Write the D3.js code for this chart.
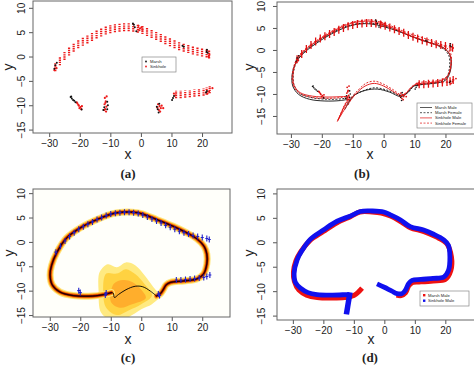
<!DOCTYPE html>
<html>
<head>
<meta charset="utf-8">
<script src="https://cdn.jsdelivr.net/npm/d3@7"></script>
<style>
body { margin: 0; background: #fff; }
svg text { font-family: "Liberation Sans", Arial, sans-serif; fill: #222; }
</style>
</head>
<body>
<svg id="fig" width="474" height="368"></svg>
<script>
const xTicks = [-30, -20, -10, 0, 10, 20];
const yTicks = [-15, -10, -5, 0, 5, 10];

// observation streaks along the upper arc and the lower right band
const arcObs = [[-28,-2.1],[-26.5,-0.9],[-25,0.2],[-23.5,1.1],[-22,1.9],[-20.5,2.6],[-19,3.1],[-17.5,3.6],[-16,4.1],[-14.5,4.6],[-13,5.0],[-11.5,5.4],[-10,5.7],[-8.5,5.9],[-7,6.0],[-5.5,6.1],[-4,6.1],[-2.5,6.0],[-1,5.8],[0.5,5.5],[2,5.1],[3.5,4.7],[5,4.3],[6.5,3.9],[8,3.4],[9.5,3.0],[11,2.6],[12.5,2.2],[14,1.9],[15.5,1.6],[17,1.3],[18.5,1.1],[20,0.9],[21.5,0.7],[22.3,0.5]];
const lowObs = [[11.5,-7.8],[13,-7.8],[14.5,-7.7],[16,-7.6],[17.5,-7.5],[19,-7.4],[20.5,-7.3],[21.5,-7.1],[22.5,-6.8]];

// scattered points ("Sinkhole" red, "Marsh" black)
const redPts = [[-20.8,-9.6],[-20.3,-10.1],[-19.8,-10.4],[-20.5,-9.9],[-19.5,-10.8],[-20.1,-10.6],[-21,-9.4],[-19.3,-10.2],
  [-11.8,-8.5],[-11.5,-9.2],[-11.9,-9.8],[-11.3,-10.3],[-11.7,-10.8],[-11.4,-11.3],[-12,-11],[-11.6,-9.5],[-11.2,-8.2],
  [5.6,-9.8],[6.1,-10.2],[6.5,-10.6],[5.9,-11],[6.8,-10.1],[5.4,-10.5],[6.3,-11.3],[7.3,-10.6],
  [-0.8,6.3],[-0.3,5.8],[0.2,6.0],[-0.5,5.4],[0.5,5.5],[-28.3,-2.8],[-27.6,-2.4],[22.2,0.0],[22.4,0.4],
  [10.8,-7.6],[11.2,-8.0],[21.8,-7.6],[22.3,-7.2],[23.4,-6.5]];
const blackPts = [[-23,-8.3],[-22.6,-8.6],[-22.2,-8.9],[-21.8,-9.1],[-21.4,-9.4],[-22.8,-8.2],[-19.4,-10.9],
  [-11,-9.3],[-10.8,-10],[-11,-10.8],[-12.3,-11],[-12,-10.4],
  [5.5,-10.8],[5.8,-11.5],[6,-9.7],[5.2,-10.3],
  [-2.3,6.5],[-2,6.0],[-1.5,5.2],[-2.6,6.8],[14,2.0],[13.6,2.2],[21.6,1.4],[21.8,0.8],[21.5,1.0],
  [-28,-1.8],[-27.5,-1.3],[-28.3,-2.5],[10.5,-8.5],[10.2,-8.9],[10.8,-8.1],[21.3,-7.4],[21.6,-7.1]];

// (b) fitted curves
const marshMale = [[-12.5,-13.5],[-11.3,-11.8],[-9.5,-10.3],[-6,-9.2],[-2,-8.9],[2,-9.6],[5.5,-10.6],[7.5,-9.9],[9.5,-8.3],[12,-7.9],[17,-7.5],[20,-6.9],[21.5,-5],[21.8,-2],[20.6,-0.2],[18,1],[14,1.8],[10,2.8],[5,4.2],[0,5.3],[-4,5.9],[-8,5.9],[-12,5.2],[-17,3.6],[-22,1.4],[-26,-0.8],[-28.4,-2.9],[-29.6,-5.6],[-29.4,-8.2],[-27.5,-10.1],[-24,-11.2],[-19,-11.6],[-14,-11.5],[-11.5,-11.2]];
const marshFemale = [[-11.5,-12.5],[-10,-10.6],[-7,-9.4],[-3,-8.6],[1,-9.1],[5.8,-10.3],[8,-9.6],[10,-8.1],[13,-7.7],[18,-7.3],[20.3,-6.4],[21.3,-4],[21.2,-1.5],[19.8,0],[17,1.1],[13,2.1],[9,3.1],[4,4.5],[0,5.5],[-4,6.1],[-8,6.0],[-12,5.4],[-17,3.8],[-22,1.6],[-26,-0.6],[-28.1,-2.6],[-29.2,-5.3],[-29,-7.9],[-27.2,-9.8],[-23.5,-10.8],[-18,-11.2],[-13.5,-11.1],[-11,-10.8]];
const sinkMale = [[-14.8,-16],[-12,-12.8],[-9,-10],[-6,-8.2],[-3,-7.6],[0,-8.2],[3,-9.4],[5.5,-10.4],[7,-10],[8.5,-8.8],[10.5,-7.8],[14,-7.5],[18,-7.1],[20.5,-6.1],[21.7,-3.6],[21.4,-1],[19.5,0.4],[16,1.4],[12,2.4],[8,3.4],[4,4.7],[0,5.8],[-4,6.5],[-8,6.4],[-12,5.7],[-17,4],[-22,1.8],[-26,-0.4],[-28.2,-2.5],[-29.3,-5.4],[-29,-8],[-27,-9.7],[-23,-10.5],[-18,-10.7],[-13,-10.6],[-11,-10.6],[-12.5,-12.5],[-14.8,-16]];
const sinkFemale = [[-15,-16.3],[-12,-12.2],[-8.5,-9.3],[-5.5,-7.5],[-2.8,-7.1],[0,-7.8],[3,-9],[5.8,-10.2],[7.5,-9.6],[9,-8.4],[11,-7.5],[14,-7.2],[18,-6.9],[20.8,-5.8],[21.9,-3.2],[21.6,-0.6],[19.8,0.8],[16.5,1.8],[12.5,2.8],[8,3.8],[4,5.0],[0,6.1],[-4,6.8],[-8,6.6],[-12,5.9],[-17,4.2],[-22,2],[-26,-0.2],[-28.3,-2.3],[-29.5,-5.3],[-29.2,-8.1],[-27.2,-9.9],[-23,-10.8],[-18,-11],[-13.5,-10.8],[-11.5,-10.6],[-13,-13],[-15,-16.3]];
const curvesB = [
  {name: "Marsh Male", pts: marshMale, color: "#111", dash: null},
  {name: "Marsh Female", pts: marshFemale, color: "#111", dash: "2,1.5"},
  {name: "Sinkhole Male", pts: sinkMale, color: "#e01010", dash: null},
  {name: "Sinkhole Female", pts: sinkFemale, color: "#e01010", dash: "2,1.5"}
];

// (c) density ridge, mean path and blob contours
const ridgeC = [[5.0,-11.1],[6.3,-10.6],[7.2,-9.8],[8.2,-8.8],[9.6,-8.3],[14,-8.0],[18.2,-7.6],[20.4,-6.6],[21.5,-4.5],[21.5,-2.5],[20.6,-0.9],[18.1,0.7],[14.8,1.9],[10.5,3.2],[5,4.6],[0,5.8],[-3,6.1],[-6,6.1],[-9.3,5.8],[-13.7,4.8],[-19.1,3.2],[-24.5,0.8],[-27.7,-2.2],[-29.4,-4.8],[-29.9,-6.8],[-29.2,-8.8],[-26.6,-10.3],[-22.3,-11.0],[-16,-11.1],[-12.4,-10.8],[-9.8,-10.4]];
const humpC = [[-9.8,-10.4],[-9.2,-10.5],[-8.8,-11.4],[-7.5,-10.8],[-5,-9.8],[-2,-9.1],[0.5,-9.2],[3,-10.1],[5.0,-11.1]];
const blobOuter = [[-13.5,-6],[-11,-4.6],[-8,-5.2],[-5,-4.2],[-2,-4.8],[1,-6.8],[4,-9.3],[6,-11],[3.5,-12.8],[0,-13.8],[-3,-15],[-6,-16],[-10,-16],[-13.2,-14.5],[-14,-10],[-14,-7]];
const blobMid = [[-11.5,-6.5],[-8,-6.5],[-5,-5.6],[-2,-6.6],[1,-8.6],[3.5,-11],[0,-12.8],[-4,-14],[-8,-15],[-11.5,-13.5],[-12.5,-10]];
const blobInner = [[-9,-8.6],[-6,-7.8],[-3,-8.2],[0,-9.8],[1.5,-11.5],[-3,-12.8],[-7,-13.5],[-10,-12.2]];
const blueObsC = [[-20.5,-10],[-20,-10.4],[-11.5,-10.5],[-11.8,-10.9],[6,-11],[5.6,-10.7]];

// (d) occupancy bands
const marshBandD = [[-7.3,-9.4],[-8.2,-10],[-10,-10.9],[-13,-11.3],[-17,-11.4],[-22,-11.3],[-25.5,-10.8],[-28,-9.8],[-29.5,-8],[-29.8,-6],[-29,-3.8],[-27.5,-2],[-24.5,0.3],[-20,2.2],[-15.5,4],[-11,5.3],[-8,6.2],[-4,6.2],[-1,6.0],[2,5.4],[5.5,4.2],[8.5,3],[13,2.2],[17,1.1],[20.5,-0.3],[22,-3],[21.8,-5.8],[20,-7.6],[16,-7.9],[12,-8.1],[9.3,-8.2],[8,-8.9],[7,-10.3],[5.5,-10.9],[4,-10.8]];
const sinkBandD = [[-2.4,-8.5],[0,-9.2],[2.5,-10],[4.2,-10.5],[5.8,-10.5],[6.9,-9.8],[8,-8.4],[9.1,-7.8],[12,-7.6],[16,-7.4],[19.5,-7.1],[21,-5.8],[21.5,-3],[21,-0.6],[19.5,0.5],[16,1.7],[12.9,2.5],[8.5,3.2],[5.2,4.6],[2,5.6],[-0.2,6.2],[-4,6.4],[-7.9,6.3],[-11,5.4],[-15.5,4.3],[-20,2.5],[-24.3,0.6],[-27,-1.7],[-28.6,-3.6],[-29.6,-6.4],[-29.2,-8.2],[-27.5,-9.4],[-25,-10.3],[-22.1,-10.7],[-17,-10.8],[-12.2,-10.7],[-11.5,-10.7]];
const sinkSpurD = [[-11.4,-10.8],[-11.8,-12.3],[-12.3,-14.2]];

const svg = d3.select("#fig");

const panels = [
  {tag: "(a)", left: 33, top: 1, right: 232, bottom: 133, xDom: [-35.3, 29.8], yDom: [-15.7, 11.4], yGap: 4.5, xl: [128, 158.5], yl: [13, 67], tl: [128, 177.5]},
  {tag: "(b)", left: 277, top: 2, right: 481, bottom: 134, xDom: [-34.5, 31.5], yDom: [-19.1, 10.9], yGap: 8, xl: [370, 158.5], yl: [254, 67], tl: [362, 177.5]},
  {tag: "(c)", left: 33, top: 189, right: 230, bottom: 317, xDom: [-35.5, 29.1], yDom: [-15.4, 10.85], yGap: 4.5, xl: [128, 344], yl: [14, 253], tl: [128, 362]},
  {tag: "(d)", left: 277, top: 189, right: 481, bottom: 320, xDom: [-35.2, 31.7], yDom: [-15.9, 10.9], yGap: 8, xl: [371, 344], yl: [254, 253], tl: [370, 362]}
];

function frame(p, i) {
  const x = d3.scaleLinear().domain(p.xDom).range([p.left, p.right]);
  const y = d3.scaleLinear().domain(p.yDom).range([p.bottom, p.top]);
  const g = svg.append("g");

  svg.append("clipPath").attr("id", "clip" + i)
    .append("rect").attr("x", p.left).attr("y", p.top)
    .attr("width", p.right - p.left).attr("height", p.bottom - p.top);

  const bottomAxis = d3.axisBottom(x).tickValues(xTicks).tickSize(4).tickPadding(3)
    .tickFormat(d => d < 0 ? "\u2212" + Math.abs(d) : d);
  g.append("g").attr("transform", `translate(0,${p.bottom})`).call(bottomAxis)
    .call(a => a.select(".domain").remove())
    .call(a => a.selectAll("line").attr("stroke", "#555"))
    .call(a => a.selectAll("text").attr("font-size", 10).attr("fill", "#222")
      .attr("font-family", "Liberation Sans, Arial, sans-serif"));

  const leftAxis = d3.axisLeft(y).tickValues(yTicks).tickSize(4).tickPadding(p.yGap)
    .tickFormat(d => d < 0 ? "\u2212" + Math.abs(d) : d);
  g.append("g").attr("transform", `translate(${p.left},0)`).call(leftAxis)
    .call(a => a.select(".domain").remove())
    .call(a => a.selectAll("line").attr("stroke", "#555"))
    .call(a => a.selectAll("text").attr("font-size", 10).attr("fill", "#222")
      .attr("font-family", "Liberation Sans, Arial, sans-serif")
      .attr("text-anchor", "middle").attr("dy", 0)
      .attr("transform", function() {
        const t = d3.select(this);
        return `rotate(-90,${t.attr("x")},0)`;
      }));

  g.append("text").attr("x", p.xl[0]).attr("y", p.xl[1]).attr("text-anchor", "middle")
    .attr("font-size", 14).text("x");
  g.append("text").attr("transform", `translate(${p.yl[0]},${p.yl[1]}) rotate(-90)`)
    .attr("text-anchor", "middle").attr("font-size", 14).text("y");
  g.append("text").attr("x", p.tl[0]).attr("y", p.tl[1]).attr("text-anchor", "middle")
    .attr("font-size", 13).attr("font-weight", "bold")
    .style("font-family", "Liberation Serif, Times New Roman, serif").text(p.tag);

  const plot = svg.append("g").attr("clip-path", `url(#clip${i})`);
  return {x, y, plot, p};
}

function box(f) {
  const p = f.p;
  svg.append("rect").attr("x", p.left).attr("y", p.top)
    .attr("width", p.right - p.left).attr("height", p.bottom - p.top)
    .attr("fill", "none").attr("stroke", "#666").attr("stroke-width", 1);
}

function streaks(f, list, h, color, w) {
  f.plot.selectAll(null).data(list).enter().append("line")
    .attr("x1", d => f.x(d[0])).attr("x2", d => f.x(d[0]))
    .attr("y1", d => f.y(d[1] - h)).attr("y2", d => f.y(d[1] + h))
    .attr("stroke", color).attr("stroke-width", w).attr("stroke-dasharray", "1.4,0.8");
}

function dots(f, list, color, r) {
  f.plot.selectAll(null).data(list).enter().append("circle")
    .attr("cx", d => f.x(d[0])).attr("cy", d => f.y(d[1])).attr("r", r)
    .attr("fill", color);
}

// ---- (a)
const fa = frame(panels[0], 0);
streaks(fa, arcObs, 0.9, "#ee1a1a", 2.2);
streaks(fa, lowObs, 0.75, "#ee1a1a", 2.2);
dots(fa, redPts, "#ee1a1a", 1.1);
dots(fa, blackPts, "#111", 1.0);
box(fa);
const legA = svg.append("g");
legA.append("rect").attr("x", 142).attr("y", 57).attr("width", 34).attr("height", 15)
  .attr("fill", "#fff").attr("stroke", "#888").attr("stroke-width", 0.7);
[["Marsh", "#111"], ["Sinkhole", "#ee1a1a"]].forEach((e, k) => {
  legA.append("circle").attr("cx", 146).attr("cy", 61.5 + k * 5).attr("r", 0.9).attr("fill", e[1]);
  legA.append("text").attr("x", 150).attr("y", 63 + k * 5).attr("font-size", 4.2).attr("fill", "#333").text(e[0]);
});

// ---- (b)
const fb = frame(panels[1], 1);
const lineB = d3.line().x(d => fb.x(d[0])).y(d => fb.y(d[1])).curve(d3.curveCatmullRom.alpha(0.5));
curvesB.forEach(c => {
  fb.plot.append("path").attr("d", lineB(c.pts)).attr("fill", "none")
    .attr("stroke", c.color).attr("stroke-width", 0.9)
    .attr("stroke-dasharray", c.dash);
});
fb.plot.selectAll(null).data(arcObs.concat(lowObs)).enter().append("path")
  .attr("d", d => {
    const cx = fb.x(d[0]), cy = fb.y(d[1]);
    return `M${cx},${cy - 4}V${cy + 4}M${cx - 1.2},${cy}H${cx + 1.2}`;
  })
  .attr("stroke", "#e01010").attr("stroke-width", 1.3);
dots(fb, redPts, "#e01010", 0.9);
dots(fb, blackPts, "#111", 0.8);
box(fb);
const legB = svg.append("g");
legB.append("rect").attr("x", 417).attr("y", 103).attr("width", 55).attr("height", 25)
  .attr("fill", "#fff").attr("stroke", "#888").attr("stroke-width", 0.7);
curvesB.forEach((c, k) => {
  const yy = 107.5 + k * 5.2;
  legB.append("line").attr("x1", 420).attr("x2", 432).attr("y1", yy).attr("y2", yy)
    .attr("stroke", c.color).attr("stroke-width", 0.7).attr("stroke-dasharray", c.dash);
  legB.append("text").attr("x", 435).attr("y", yy + 1.4).attr("font-size", 4.2)
    .attr("fill", "#333").text(c.name);
});

// ---- (c)
const fc = frame(panels[2], 2);
fc.plot.append("rect").attr("x", panels[2].left).attr("y", panels[2].top)
  .attr("width", panels[2].right - panels[2].left).attr("height", panels[2].bottom - panels[2].top)
  .attr("fill", "#fffffa");
const areaC = d3.line().x(d => fc.x(d[0])).y(d => fc.y(d[1])).curve(d3.curveCatmullRomClosed.alpha(0.5));
[[blobOuter, "#ffe873"], [blobMid, "#ffcf3a"], [blobInner, "#ffaa2a"]].forEach(b => {
  fc.plot.append("path").attr("d", areaC(b[0])).attr("fill", b[1]).attr("opacity", 0.9);
});
const lineC = d3.line().x(d => fc.x(d[0])).y(d => fc.y(d[1])).curve(d3.curveCatmullRom.alpha(0.5));
[["#ffe680", 7], ["#ffaa20", 5], ["#ee6400", 3.4], ["#b81a00", 2.2], ["#5c0800", 1.3]].forEach(s => {
  fc.plot.append("path").attr("d", lineC(ridgeC)).attr("fill", "none")
    .attr("stroke", s[0]).attr("stroke-width", s[1]).attr("stroke-linecap", "round");
});
fc.plot.append("path").attr("d", lineC(ridgeC)).attr("fill", "none").attr("stroke", "#000").attr("stroke-width", 0.7);
fc.plot.append("path").attr("d", lineC(humpC)).attr("fill", "none").attr("stroke", "#000").attr("stroke-width", 0.9);
fc.plot.selectAll(null).data(arcObs.concat(lowObs, blueObsC)).enter().append("path")
  .attr("d", d => {
    const cx = fc.x(d[0]), cy = fc.y(d[1]);
    return `M${cx},${cy - 3}V${cy + 3}M${cx - 1.5},${cy}H${cx + 1.5}`;
  })
  .attr("stroke", "#2020cc").attr("stroke-width", 1.1);
box(fc);

// ---- (d)
const fd = frame(panels[3], 3);
const lineD = d3.line().x(d => fd.x(d[0])).y(d => fd.y(d[1])).curve(d3.curveCatmullRom.alpha(0.5));
fd.plot.append("path").attr("d", lineD(marshBandD)).attr("fill", "none")
  .attr("stroke", "#ee1111").attr("stroke-width", 5).attr("stroke-linejoin", "round");
fd.plot.append("path").attr("d", lineD(sinkBandD)).attr("fill", "none")
  .attr("stroke", "#1010ee").attr("stroke-width", 4.8).attr("stroke-linejoin", "round");
fd.plot.append("path").attr("d", lineD(sinkSpurD)).attr("fill", "none")
  .attr("stroke", "#1010ee").attr("stroke-width", 5.5).attr("stroke-linecap", "square");
box(fd);
const legD = svg.append("g");
legD.append("rect").attr("x", 420).attr("y", 291).attr("width", 49).attr("height", 15)
  .attr("fill", "#fff").attr("stroke", "#888").attr("stroke-width", 0.7);
[["Marsh Male", "#ee1111"], ["Sinkhole Male", "#1010ee"]].forEach((e, k) => {
  legD.append("rect").attr("x", 423).attr("y", 294 + k * 5.5).attr("width", 2.4).attr("height", 2.4).attr("fill", e[1]);
  legD.append("text").attr("x", 428).attr("y", 296.6 + k * 5.5).attr("font-size", 4.2)
    .attr("fill", "#333").text(e[0]);
});
</script>
</body>
</html>
